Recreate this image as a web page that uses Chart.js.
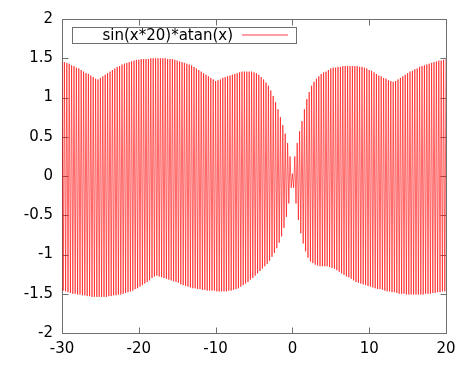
<!DOCTYPE html>
<html>
<head>
<meta charset="utf-8">
<script src="https://cdn.jsdelivr.net/npm/chart.js@4.4.1/dist/chart.umd.min.js"></script>
<style>
  html, body { margin: 0; padding: 0; background: #fff; }
  canvas { display: block; }
</style>
</head>
<body>
<canvas id="plot" width="474" height="367"></canvas>
<script>
var seriesLabel = 'sin(x*20)*atan(x)';
var xStart = -30;
var xStep = 0.15625;
var values = [
  1.46, -1.46, 1.45, -1.47, 1.44, -1.48, 1.43, -1.49, 1.41, -1.50, 1.40, -1.50, 1.38, -1.51, 1.37, -1.51, 1.35, -1.52, 1.33, -1.52,
  1.31, -1.53, 1.30, -1.53, 1.28, -1.54, 1.26, -1.54, 1.24, -1.54, 1.23, -1.54, 1.25, -1.54, 1.27, -1.54, 1.29, -1.54, 1.31, -1.53,
  1.33, -1.53, 1.35, -1.52, 1.37, -1.52, 1.39, -1.51, 1.40, -1.51, 1.42, -1.50, 1.43, -1.49, 1.44, -1.48, 1.45, -1.47, 1.46, -1.46,
  1.47, -1.44, 1.48, -1.43, 1.48, -1.41, 1.49, -1.39, 1.49, -1.37, 1.49, -1.35, 1.49, -1.33, 1.50, -1.30, 1.50, -1.28, 1.50, -1.27,
  1.50, -1.28, 1.50, -1.29, 1.50, -1.30, 1.50, -1.31, 1.49, -1.32, 1.49, -1.33, 1.49, -1.34, 1.48, -1.35, 1.47, -1.36, 1.46, -1.38,
  1.45, -1.39, 1.44, -1.40, 1.43, -1.41, 1.42, -1.42, 1.41, -1.43, 1.39, -1.43, 1.37, -1.44, 1.35, -1.44, 1.33, -1.45, 1.31, -1.45,
  1.29, -1.46, 1.27, -1.46, 1.25, -1.46, 1.23, -1.46, 1.21, -1.47, 1.22, -1.47, 1.23, -1.47, 1.25, -1.47, 1.26, -1.47, 1.27, -1.46,
  1.28, -1.46, 1.29, -1.45, 1.30, -1.44, 1.31, -1.43, 1.32, -1.41, 1.33, -1.39, 1.33, -1.37, 1.33, -1.35, 1.33, -1.32, 1.33, -1.30,
  1.32, -1.27, 1.31, -1.24, 1.29, -1.21, 1.26, -1.18, 1.23, -1.15, 1.19, -1.12, 1.15, -1.08, 1.09, -1.03, 1.02, -0.98, 0.94, -0.92,
  0.85, -0.85, 0.75, -0.77, 0.65, -0.66, 0.54, -0.52, 0.42, -0.35, 0.25, -0.15, 0.03, -0.15, 0.25, -0.35, 0.42, -0.56, 0.57, -0.73,
  0.70, -0.86, 0.85, -0.96, 0.98, -1.04, 1.07, -1.09, 1.15, -1.11, 1.20, -1.13, 1.24, -1.14, 1.27, -1.15, 1.30, -1.15, 1.32, -1.15,
  1.33, -1.15, 1.35, -1.16, 1.37, -1.17, 1.38, -1.18, 1.38, -1.20, 1.39, -1.22, 1.39, -1.24, 1.40, -1.26, 1.40, -1.28, 1.40, -1.29,
  1.40, -1.31, 1.40, -1.33, 1.40, -1.35, 1.40, -1.36, 1.39, -1.37, 1.39, -1.38, 1.38, -1.39, 1.37, -1.40, 1.35, -1.41, 1.34, -1.42,
  1.32, -1.43, 1.30, -1.44, 1.28, -1.44, 1.27, -1.45, 1.25, -1.46, 1.24, -1.47, 1.22, -1.47, 1.21, -1.48, 1.20, -1.48, 1.21, -1.49,
  1.23, -1.50, 1.25, -1.50, 1.27, -1.50, 1.29, -1.51, 1.31, -1.51, 1.33, -1.51, 1.34, -1.51, 1.36, -1.51, 1.37, -1.51, 1.39, -1.51,
  1.40, -1.51, 1.41, -1.50, 1.42, -1.50, 1.43, -1.50, 1.44, -1.49, 1.45, -1.49, 1.46, -1.48, 1.47, -1.48, 1.47, -1.47, 1.48, -1.47,
  1.49
];
var xTicks = [-30, -20, -10, 0, 10, 20];
var yTicks = [-2, -1.5, -1, -0.5, 0, 0.5, 1, 1.5, 2];
var xTickLabels = ['-30', '-20', '-10', '0', '10', '20'];
var yTickLabels = ['-2', '-1.5', '-1', '-0.5', '0', '0.5', '1', '1.5', '2'];

var FONT = 'DejaVu Sans';
var LINE_RED = 'rgba(255, 0, 0, 0.6)';
var points = values.map(function (v, i) {
    return { x: xStart + i * xStep, y: v };
});

// gnuplot like frame with inward ticks on all four sides, plus the key
var gnuplotFrame = {
    id: 'gnuplotFrame',
    beforeDatasetsDraw: function (chart) {
        var ctx = chart.ctx;
        var a = chart.chartArea;
        var sx = chart.scales.x, sy = chart.scales.y;
        var L = Math.round(a.left) + 0.5, R = Math.round(a.right) + 0.5;
        var T = Math.round(a.top) + 0.5, B = Math.round(a.bottom) + 0.5;
        ctx.save();
        ctx.strokeStyle = '#707070';
        ctx.lineWidth = 1;
        ctx.strokeRect(L, T, R - L, B - T);
        ctx.beginPath();
        xTicks.forEach(function (v) {
            var px = Math.round(sx.getPixelForValue(v)) + 0.5;
            ctx.moveTo(px, B); ctx.lineTo(px, B - 6);
            ctx.moveTo(px, T); ctx.lineTo(px, T + 6);
        });
        yTicks.forEach(function (v) {
            var py = Math.round(sy.getPixelForValue(v)) + 0.5;
            ctx.moveTo(L, py); ctx.lineTo(L + 6, py);
            ctx.moveTo(R, py); ctx.lineTo(R - 6, py);
        });
        ctx.stroke();
        ctx.restore();
    },
    afterDraw: function (chart) {
        var ctx = chart.ctx;
        ctx.save();
        ctx.fillStyle = '#fff';
        ctx.fillRect(72.5, 27.5, 224, 16);
        ctx.strokeStyle = '#707070';
        ctx.lineWidth = 1;
        ctx.strokeRect(72.5, 27.5, 224, 16);
        ctx.fillStyle = '#000';
        ctx.font = '15px "' + FONT + '"';
        ctx.textAlign = 'right';
        ctx.textBaseline = 'middle';
        ctx.fillText(seriesLabel, 233, 36);
        // key sample: a soft, two-row pink-red stroke like the antialiased original
        ctx.fillStyle = 'rgba(255, 40, 60, 0.45)';
        ctx.fillRect(242, 34, 46, 2);
        ctx.restore();
    }
};

new Chart(document.getElementById('plot').getContext('2d'), {
    type: 'line',
    data: {
        datasets: [{
            label: seriesLabel,
            data: points,
            borderColor: LINE_RED,
            borderWidth: 1,
            pointRadius: 0,
            tension: 0,
            fill: false
        }]
    },
    options: {
        responsive: false,
        animation: false,
        devicePixelRatio: 1,
        layout: { padding: { left: 0, right: 28, top: 19, bottom: 0 } },
        plugins: {
            legend: { display: false },
            tooltip: { enabled: false }
        },
        scales: {
            x: {
                type: 'linear',
                min: -30,
                max: 20,
                afterBuildTicks: function (s) {
                    s.ticks = xTicks.map(function (v) { return { value: v }; });
                },
                afterFit: function (s) { s.height = 34; },
                grid: { display: false, drawTicks: false },
                border: { display: false },
                ticks: {
                    padding: 7,
                    color: '#000',
                    maxRotation: 0,
                    font: { family: FONT, size: 15 },
                    callback: function (v) { return xTickLabels[xTicks.indexOf(v)]; }
                }
            },
            y: {
                type: 'linear',
                min: -2,
                max: 2,
                afterBuildTicks: function (s) {
                    s.ticks = yTicks.map(function (v) { return { value: v }; });
                },
                afterFit: function (s) { s.width = 62; },
                grid: { display: false, drawTicks: false },
                border: { display: false },
                ticks: {
                    padding: 9,
                    color: '#000',
                    font: { family: FONT, size: 15 },
                    callback: function (v) { return yTickLabels[yTicks.indexOf(v)]; }
                }
            }
        }
    },
    plugins: [gnuplotFrame]
});
</script>
</body>
</html>
